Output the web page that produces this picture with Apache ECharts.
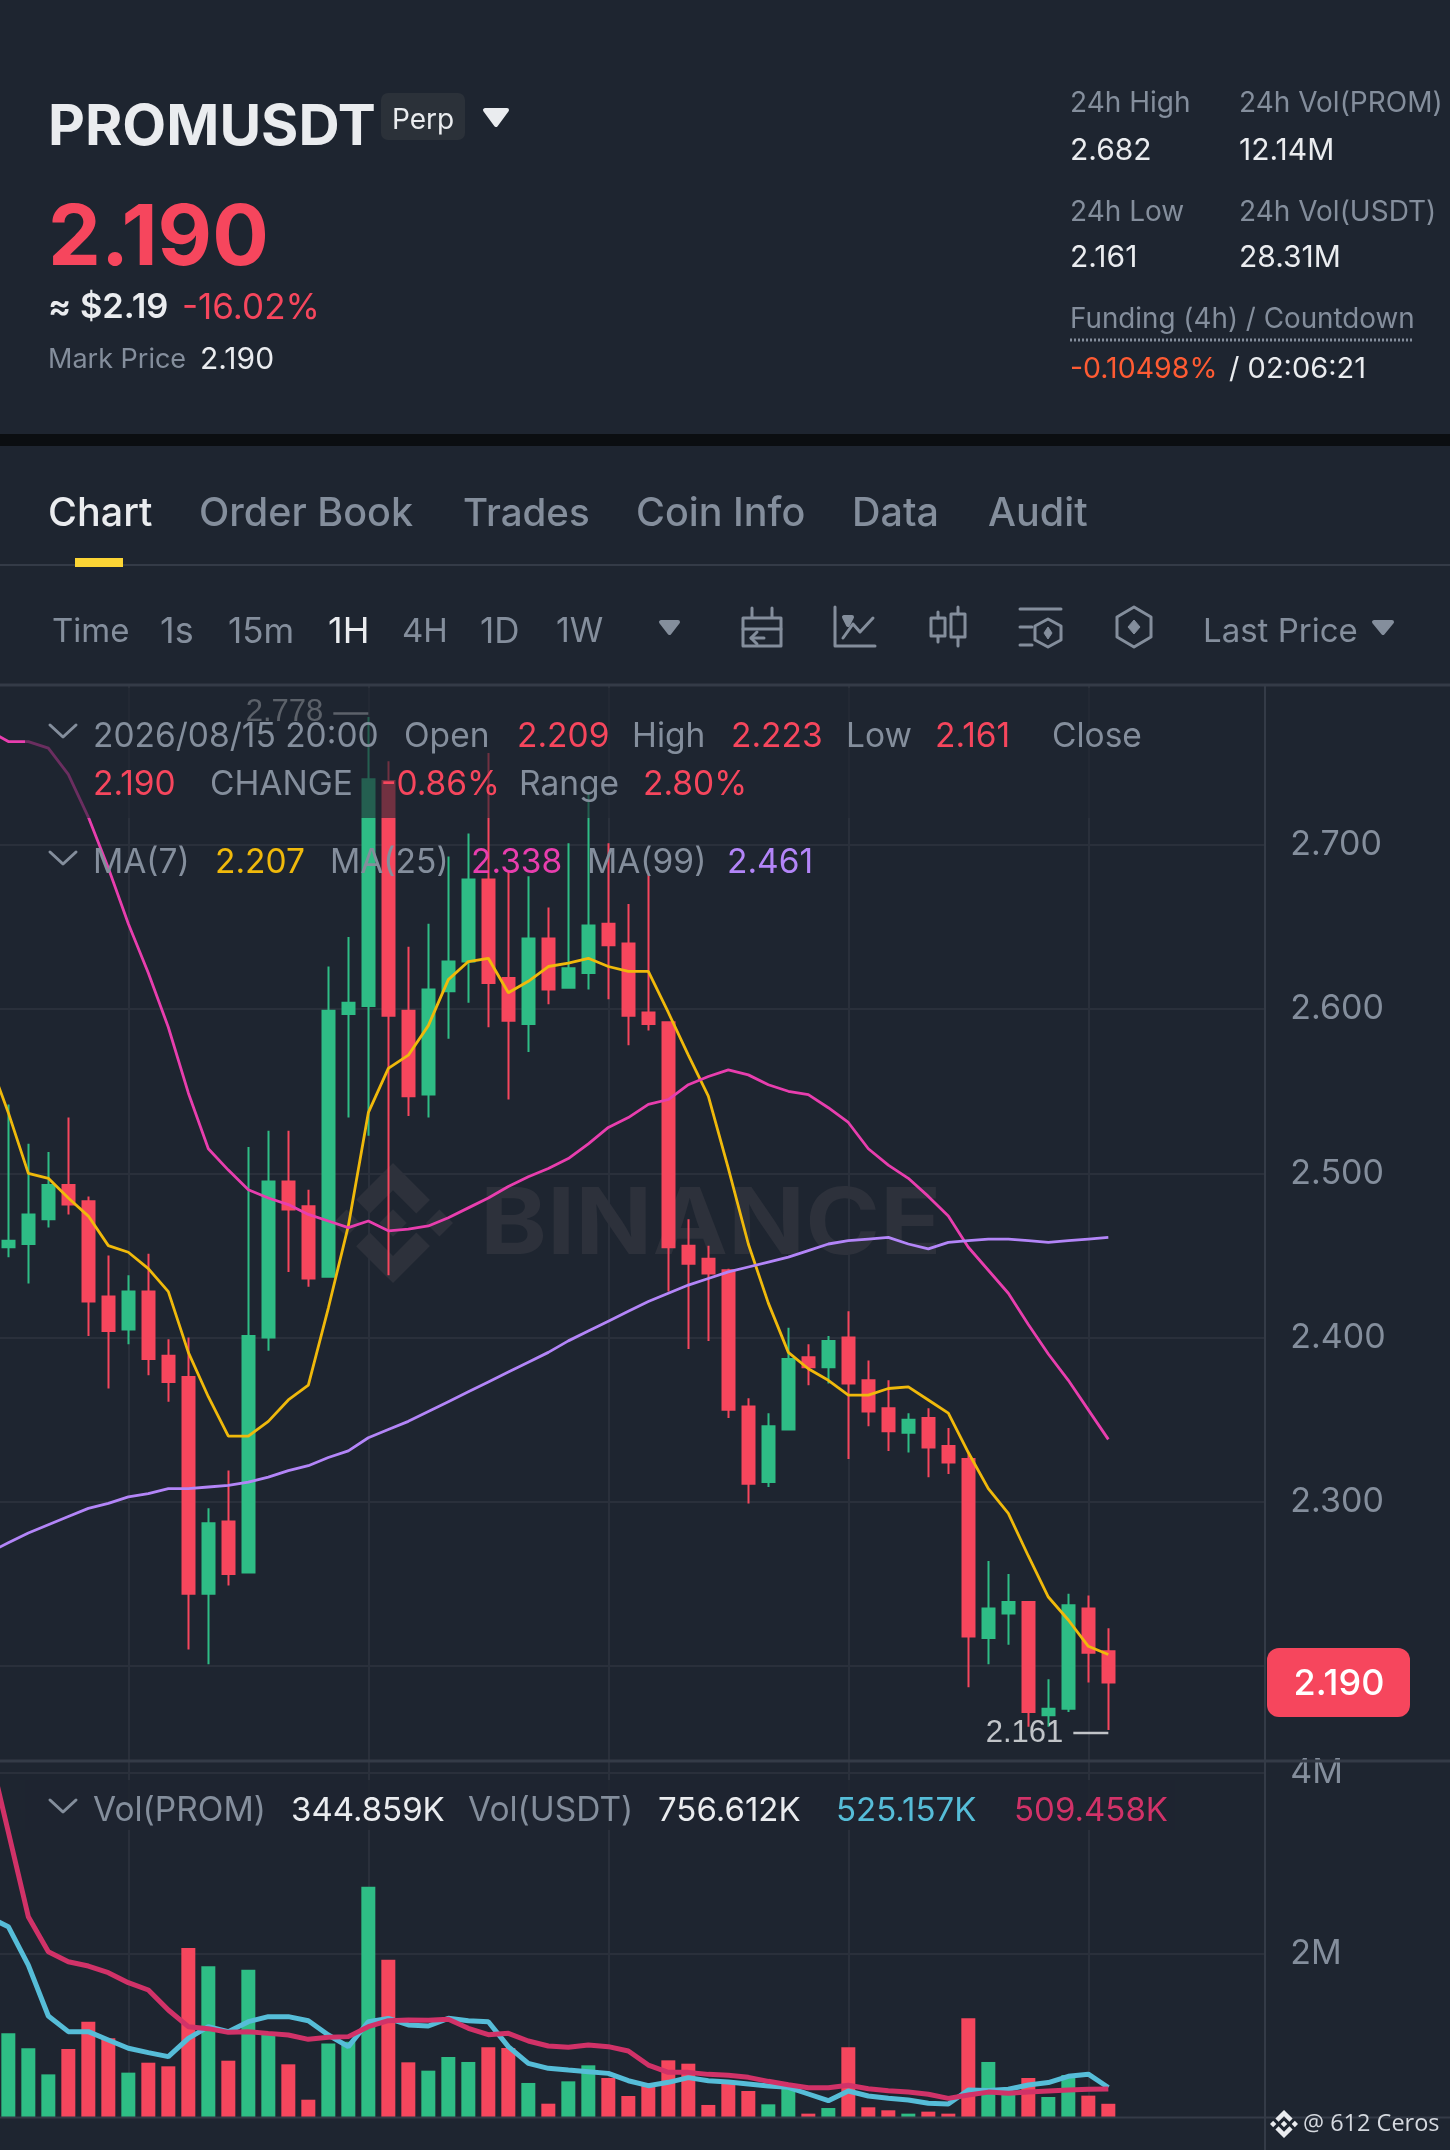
<!DOCTYPE html>
<html><head><meta charset="utf-8">
<style>html,body{margin:0;padding:0;background:#1e2530}#c{width:1450px;height:2150px}</style>
<script src="https://cdn.jsdelivr.net/npm/echarts@6/dist/echarts.min.js"></script>
</head><body><div id="c"></div>
<script>
// index 0 sits just left of the visible area; the visible candles start at index 1
const opens  = ['-',2.455,2.457,2.472,2.493,2.483,2.425,2.405,2.428,2.389,2.376,2.244,2.288,2.257,2.400,2.495,2.480,2.437,2.597,2.602,2.739,2.599,2.548,2.611,2.629,2.679,2.619,2.591,2.643,2.613,2.622,2.652,2.640,2.598,2.592,2.456,2.448,2.441,2.358,2.312,2.344,2.388,2.382,2.400,2.374,2.357,2.342,2.351,2.334,2.326,2.217,2.232,2.239,2.170,2.174,2.235,2.209];
const closes = ['-',2.459,2.475,2.493,2.481,2.422,2.404,2.428,2.387,2.373,2.244,2.287,2.256,2.401,2.495,2.478,2.436,2.599,2.604,2.740,2.596,2.547,2.612,2.629,2.679,2.616,2.593,2.643,2.612,2.625,2.651,2.639,2.596,2.591,2.455,2.445,2.439,2.356,2.311,2.346,2.387,2.382,2.398,2.372,2.355,2.343,2.350,2.333,2.324,2.218,2.235,2.239,2.172,2.174,2.237,2.208,2.190];
const lows   = ['-',2.449,2.433,2.467,2.475,2.401,2.369,2.396,2.377,2.361,2.210,2.201,2.249,2.257,2.392,2.440,2.431,2.437,2.534,2.523,2.438,2.535,2.534,2.582,2.604,2.589,2.545,2.574,2.603,2.613,2.612,2.606,2.578,2.587,2.428,2.393,2.398,2.351,2.299,2.309,2.344,2.371,2.372,2.326,2.346,2.331,2.330,2.315,2.317,2.187,2.201,2.213,2.163,2.163,2.172,2.190,2.161];
const highs  = ['-',2.542,2.518,2.513,2.534,2.486,2.450,2.438,2.451,2.399,2.400,2.296,2.319,2.516,2.526,2.526,2.490,2.626,2.644,2.778,2.751,2.638,2.652,2.693,2.707,2.756,2.684,2.681,2.662,2.701,2.731,2.701,2.664,2.682,2.592,2.472,2.456,2.442,2.363,2.354,2.406,2.396,2.401,2.416,2.386,2.374,2.354,2.357,2.345,2.330,2.264,2.256,2.239,2.192,2.244,2.243,2.223];
const ma7  = [2.570,2.537,2.500,2.497,2.485,2.474,2.456,2.452,2.442,2.428,2.391,2.364,2.340,2.340,2.349,2.362,2.371,2.418,2.468,2.537,2.564,2.572,2.590,2.618,2.629,2.631,2.610,2.617,2.626,2.628,2.631,2.626,2.623,2.623,2.598,2.572,2.547,2.503,2.457,2.421,2.391,2.381,2.374,2.365,2.365,2.369,2.370,2.362,2.354,2.330,2.308,2.293,2.267,2.242,2.228,2.212,2.207];
const ma25 = [2.770,2.763,2.763,2.759,2.743,2.717,2.686,2.652,2.622,2.589,2.549,2.515,2.502,2.490,2.485,2.481,2.475,2.471,2.467,2.471,2.465,2.466,2.468,2.473,2.479,2.485,2.492,2.498,2.503,2.509,2.518,2.528,2.534,2.542,2.545,2.554,2.559,2.563,2.560,2.554,2.550,2.548,2.540,2.531,2.515,2.505,2.497,2.486,2.474,2.455,2.441,2.427,2.408,2.390,2.374,2.356,2.338];
const ma99 = [2.269,2.275,2.281,2.286,2.291,2.296,2.299,2.303,2.305,2.308,2.308,2.309,2.310,2.312,2.315,2.319,2.322,2.327,2.331,2.339,2.344,2.349,2.355,2.361,2.367,2.373,2.379,2.385,2.391,2.398,2.404,2.410,2.416,2.422,2.427,2.432,2.436,2.440,2.443,2.446,2.449,2.453,2.457,2.459,2.460,2.461,2.457,2.454,2.458,2.459,2.460,2.460,2.459,2.458,2.459,2.460,2.461];
// volumes in millions of PROM
const volumes = [0,1.123,0.958,0.670,0.950,1.252,1.068,0.689,0.799,0.759,2.066,1.864,0.821,1.827,1.105,0.781,0.390,1.011,1.031,2.744,1.937,0.803,0.711,0.862,0.807,0.969,0.961,0.575,0.346,0.593,0.770,0.630,0.431,0.571,0.825,0.788,0.332,0.571,0.486,0.339,0.553,0.236,0.298,0.969,0.306,0.273,0.236,0.258,0.236,1.289,0.807,0.486,0.630,0.420,0.663,0.435,0.345];
const volMaShort = [2.410,2.302,1.878,1.315,1.142,1.142,1.050,0.958,0.910,0.866,1.068,1.197,1.142,1.252,1.308,1.308,1.263,1.105,0.976,1.252,1.289,1.216,1.204,1.289,1.263,1.252,0.976,0.792,0.737,0.718,0.700,0.681,0.600,0.545,0.582,0.634,0.600,0.586,0.564,0.542,0.527,0.453,0.379,0.486,0.431,0.405,0.387,0.350,0.343,0.497,0.493,0.505,0.552,0.579,0.648,0.672,0.525];
const volMaLong  = [4.280,3.348,2.412,2.026,1.915,1.867,1.794,1.683,1.602,1.381,1.197,1.175,1.134,1.142,1.123,1.105,1.057,1.079,1.087,1.197,1.263,1.271,1.267,1.278,1.179,1.108,1.123,1.039,0.983,0.969,0.995,0.976,0.928,0.773,0.692,0.692,0.670,0.659,0.637,0.593,0.556,0.523,0.523,0.549,0.512,0.490,0.475,0.450,0.405,0.442,0.474,0.462,0.474,0.486,0.497,0.505,0.509];
const priceTicks = [2.2,2.3,2.4,2.5,2.6,2.7];
const volTicks = [2,4];
const categories = Array.from({length:65},(_,i)=>String(i));
const highMark = [19,2.778], lowMark = [56,2.161];

const BG='#1e2530', GREEN='#2ebd85', RED='#f6465d', MUTED='#848e9c', WHITE='#eaecef', GRID='#2a303b', SEP='#343b47';
const FONT='Inter, "Open Sans", sans-serif';
const BNB=[[[38.73,53.2],[63.32,28.62],[87.92,53.22],[102.22,38.91],[63.32,0],[24.42,38.9]],
 [[0,63.31],[14.3,49],[28.61,63.31],[14.3,77.61]],
 [[38.73,73.41],[63.32,98],[87.92,73.4],[102.23,87.69],[63.33,126.6],[24.42,87.72]],
 [[98.01,63.31],[112.31,49],[126.62,63.31],[112.31,77.61]],
 [[63.32,48.78],[77.83,63.3],[63.32,77.78],[48.81,63.28]]];

function T(x,y,text,size,fill,weight,align){return {type:'text',z:10,style:{x,y,text,fill,font:(weight||400)+' '+size+'px '+FONT,align:align||'left',verticalAlign:'middle'}};}
function R(x,y,w,h,fill,z,r){return {type:'rect',z:z==null?6:z,shape:{x,y,width:w,height:h,r:r||0},style:{fill}};}
function L(x1,y1,x2,y2,stroke,lw,z,dash){return {type:'line',z:z==null?6:z,shape:{x1,y1,x2,y2},style:{stroke,lineWidth:lw,lineDash:dash}};}
function PL(points){return {type:'polyline',z:10,shape:{points},style:{fill:null,stroke:MUTED,lineWidth:3,lineJoin:'round',lineCap:'round'}};}
function PG(points,stroke,fill,lw){return {type:'polygon',z:10,shape:{points},style:{fill:fill||null,stroke:stroke,lineWidth:lw==null?3:lw,lineJoin:'round'}};}
function Tri(x1,x2,y1,y2,c){const m=(x1+x2)/2;return PG([[x1+2,y1+2],[x2-2,y1+2],[m,y2-2]],c,c,4);}
function Chev(y){return PL([[50,y],[63,y+12],[76,y]]);}
function logo(x,y,size,fill,z){return BNB.map(pts=>({type:'polygon',z,shape:{points:pts.map(p=>[x+p[0]*size/126.6,y+p[1]*size/126.6])},style:{fill}}));}

const LG=33.5;
const g=[
 // masks and overlays
 R(1266,686,20,1464,BG,1),
 R(25,688,1130,130,'rgba(30,37,48,0.62)',5),
 R(25,1780,1150,50,'rgba(30,37,48,0.85)',5),
 // watermark
 ...logo(333,1163,120,'#2d313b',1),
 {type:'text',z:1,x:480,y:1226,scaleX:1.1,style:{x:0,y:0,text:'BINANCE',fill:'#2d313b',font:'700 92px '+FONT,align:'left',verticalAlign:'middle'}},
 // separators
 R(0,434,1450,12,'#0b0e11'),
 L(0,565,1450,565,SEP,2),
 L(0,685,1450,685,SEP,3),
 L(0,1761,1450,1761,SEP,3),
 L(0,2117.5,1450,2117.5,SEP,2),
 L(1265,686,1265,2150,SEP,2),
 // header
 T(48,128,'PROMUSDT',57,WHITE,700),
 R(381,93,84,47,'#2b3139',6,7),
 T(423,121,'Perp',28,WHITE,400,'center'),
 Tri(483,509,108,127,WHITE),
 T(48,240,'2.190',84,RED,700),
 T(48,308,'≈ $2.19',34.5,WHITE,600),
 T(182,308,'-16.02%',35,RED,400),
 T(48,360,'Mark Price',27,MUTED),
 T(200,360,'2.190',30,WHITE),
 T(1070,104,'24h High',28,MUTED), T(1239,104,'24h Vol(PROM)',28,MUTED),
 T(1070,151,'2.682',30,WHITE), T(1239,151,'12.14M',30,WHITE),
 T(1070,213,'24h Low',28,MUTED), T(1239,213,'24h Vol(USDT)',28,MUTED),
 T(1070,258,'2.161',30,WHITE), T(1239,258,'28.31M',30,WHITE),
 T(1070,320,'Funding (4h) / Countdown',27.8,MUTED),
 L(1070,340,1413,340,MUTED,3,10,[2,2]),
 T(1070,369,'-0.10498%',28.5,'#ff5b33'), T(1229,369,'/ 02:06:21',29,WHITE),
 // tabs
 T(48,514,'Chart',39.5,WHITE,500), T(199,514,'Order Book',39.5,MUTED,500), T(463,514,'Trades',38.5,MUTED,500),
 T(636,514,'Coin Info',39.5,MUTED,500), T(852,514,'Data',39.5,MUTED,500), T(988,514,'Audit',39.5,MUTED,500),
 R(75,558,48,9,'#fcd535',7),
 // toolbar
 T(52,632,'Time',33,MUTED), T(160,632,'1s',36,MUTED), T(228,632,'15m',35,MUTED), T(328,632,'1H',36,WHITE),
 T(402,632,'4H',33,MUTED), T(480,632,'1D',35,MUTED), T(556,632,'1W',34,MUTED),
 Tri(659,680,620,635,MUTED),
 // calendar icon
 PG([[743,618],[781,618],[781,646],[743,646]],MUTED), PL([[743,629],[781,629]]), PL([[752,608],[752,617]]), PL([[772,608],[772,617]]),
 PL([[764,638],[751,638]]), PL([[757,632],[751,638],[757,644]]),
 // chart icon
 PL([[835,607],[835,646],[875,646]]), PL([[843,638],[853,624],[860,632],[873,618]]), Tri(842,854,615,627,MUTED),
 // candles icon
 PG([[931,618],[945,618],[945,636],[931,636]],MUTED), PL([[938,612],[938,618]]), PL([[938,636],[938,642]]),
 PG([[951,614],[965,614],[965,637],[951,637]],MUTED), PL([[958,607],[958,614]]), PL([[958,637],[958,646]]),
 // layout icon
 PL([[1020,609],[1061,609]]), PL([[1020,627],[1032,627]]), PL([[1020,645],[1032,645]]),
 PG([[1048,619],[1061,626],[1061,640],[1048,647],[1035,640],[1035,626]],MUTED),
 PG([[1048,627],[1052,633],[1048,639],[1044,633]],MUTED,MUTED,1),
 // hexagon icon
 PG([[1134,607],[1151,617],[1151,637],[1134,647],[1117,637],[1117,617]],MUTED),
 PG([[1134,620],[1140,627],[1134,634],[1128,627]],MUTED,MUTED,1),
 T(1203,632,'Last Price',33,MUTED),
 Tri(1372,1394,620,635,MUTED),
 // OHLC legend
 Chev(725), T(93,737,'2026/08/15 20:00',LG,MUTED), T(404,737,'Open',LG,MUTED), T(517,737,'2.209',LG,RED),
 T(632,737,'High',LG,MUTED), T(731,737,'2.223',LG,RED), T(846,737,'Low',LG,MUTED), T(935,737,'2.161',LG,RED), T(1052,737,'Close',LG,MUTED),
 T(93,785,'2.190',LG,RED), T(210,785,'CHANGE',LG,MUTED), T(381,785,'-0.86%',LG,RED), T(519,785,'Range',LG,MUTED), T(643,785,'2.80%',LG,RED),
 Chev(852), T(93,863,'MA(7)',LG,MUTED), T(215,863,'2.207',LG,'#f0b90b'), T(330,863,'MA(25)',LG,MUTED), T(471,863,'2.338',LG,'#e83eae'),
 T(587,863,'MA(99)',LG,MUTED), T(727,863,'2.461',LG,'#b385f8'),
 // volume legend
 Chev(1800), T(93,1811,'Vol(PROM)',LG,MUTED), T(291,1811,'344.859K',33,WHITE), T(468,1811,'Vol(USDT)',LG,MUTED),
 T(658,1811,'756.612K',33,WHITE), T(836,1811,'525.157K',33,'#56bdd8'), T(1014,1811,'509.458K',33,'#d13268'),
 // price tag
 R(1267,1648,143,69,RED,10,12),
 T(1339,1684,'2.190',36,'#ffffff',500,'center'),
 // attribution
 ...logo(1270,2110,28,WHITE,10),
 {type:'text',z:10,style:{x:1303,y:2124,text:'@ 612 Ceros',fill:'#d5d9df',font:'400 23.5px "Open Sans", sans-serif',align:'left',verticalAlign:'middle'}}
];

const lineS=(name,data,color,w,ax)=>({name,type:'line',data,xAxisIndex:ax,yAxisIndex:ax,showSymbol:false,symbol:'none',smooth:false,z:3,lineStyle:{color,width:w},silent:true});
const mark=(pt,offY,labY)=>({type:'scatter',data:[pt],symbol:'rect',symbolSize:[35,2.5],symbolOffset:[-17.5,offY],itemStyle:{color:'#eaecef'},z:4,silent:true,
  label:{show:true,position:'left',distance:10,offset:[0,labY],color:'#eaecef',fontFamily:'"Liberation Sans"',fontSize:31,formatter:p=>p.value[1].toFixed(3)}});
const xAx=(gi)=>({type:'category',gridIndex:gi,data:categories,boundaryGap:true,axisLine:{show:false},axisTick:{show:false},axisLabel:{show:false},
  splitLine:{show:true,alignWithLabel:true,interval:i=>i>=7&&(i-7)%12===0,lineStyle:{color:GRID,width:2}}});
const lab={color:MUTED,fontFamily:FONT,fontSize:34,margin:12,align:'left'};

const chart=echarts.init(document.getElementById('c'),null,{renderer:'canvas',width:1450,height:2150});
chart.setOption({
 animation:false,backgroundColor:BG,
 grid:[{left:-21.67,top:686,width:1300,height:1075,outerBoundsMode:'none'},{left:-21.67,top:1762,width:1300,height:355,outerBoundsMode:'none'}],
 xAxis:[xAx(0),xAx(1)],
 yAxis:[
  {type:'value',gridIndex:0,position:'right',min:2.14214,max:2.79683,axisLine:{show:false},axisTick:{show:false,customValues:priceTicks},
   axisLabel:Object.assign({customValues:priceTicks,formatter:v=>v.toFixed(3)},lab),splitLine:{show:true,lineStyle:{color:GRID,width:2}}},
  {type:'value',gridIndex:1,position:'right',min:0.1989,max:4.1215,axisLine:{show:false},axisTick:{show:false,customValues:volTicks},
   axisLabel:Object.assign({customValues:volTicks,formatter:v=>v+'M'},lab),splitLine:{show:true,lineStyle:{color:GRID,width:2}}}
 ],
 series:[
  {type:'candlestick',xAxisIndex:0,yAxisIndex:0,barWidth:13,z:2,silent:true,
   data:opens.map((o,i)=>[o,closes[i],lows[i],highs[i]]),
   itemStyle:{color:GREEN,color0:RED,borderColor:GREEN,borderColor0:RED,borderWidth:2}},
  lineS('MA7',ma7,'#f0b90b',2.8,0),lineS('MA25',ma25,'#e83eae',2.8,0),lineS('MA99',ma99,'#b385f8',2.8,0),
  mark(highMark,-3.5,-0.5),mark(lowMark,3,0),
  {type:'bar',xAxisIndex:1,yAxisIndex:1,barWidth:14,z:2,silent:true,
   data:volumes.map((v,i)=>({value:v,itemStyle:{color:closes[i]>opens[i]?GREEN:RED}}))},
  lineS('VolMA7',volMaShort,'#56bdd8',5,1),lineS('VolMA25',volMaLong,'#d13268',5,1)
 ],
 graphic:{elements:g}
});
</script></body></html>
